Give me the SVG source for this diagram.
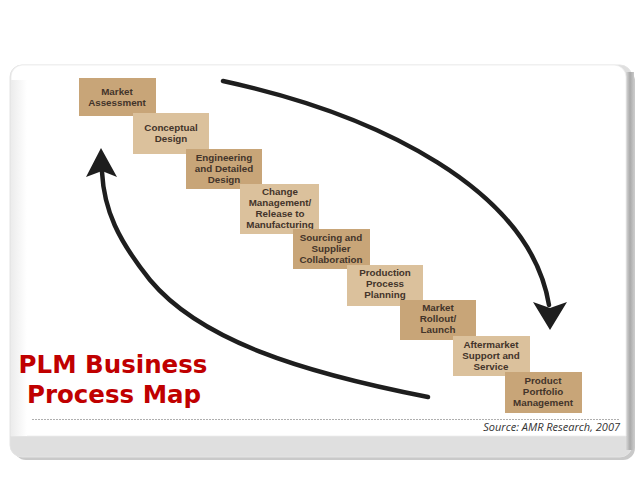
<svg xmlns="http://www.w3.org/2000/svg" width="638" height="478" viewBox="0 0 638 478">
<defs>
<style>
.dk{fill:#c8a578}
.lt{fill:#dbc19c}
.bt{font-family:"Liberation Sans",Arial,sans-serif;font-size:9.8px;fill:#43342a;text-anchor:middle;font-weight:bold}
.title{font-family:"DejaVu Sans","Liberation Sans",sans-serif;font-weight:bold;font-size:24.5px;fill:#c00000}
.arrow{fill:none;stroke:#1e1e1e;stroke-width:4.5;stroke-linecap:round}
.head{fill:#1e1e1e}
</style>
<linearGradient id="lg" x1="0" x2="1" y1="0" y2="0">
<stop offset="0" stop-color="#ececec"/>
<stop offset="1" stop-color="#ffffff"/>
</linearGradient>
<linearGradient id="rg" x1="0" x2="1" y1="0" y2="0">
<stop offset="0" stop-color="#d8d8d8"/>
<stop offset="0.5" stop-color="#a9a9a9"/>
<stop offset="1" stop-color="#c8c8c8"/>
</linearGradient>
</defs>
<rect width="638" height="478" fill="#ffffff"/>
<g id="frame">
<rect x="14" y="69" width="621" height="391" rx="12" fill="#c9c9c9"/>
<rect x="10" y="65" width="622" height="392" rx="12" fill="#dfdfdf" stroke="#e4e4e4" stroke-width="1"/>
<rect x="626" y="72" width="8" height="378" fill="url(#rg)"/>
<path d="M22,65 H614 A12,12 0 0 1 626,77 V436 H27 V436 H11 V77 A12,12 0 0 1 22,65 Z" fill="#ffffff" stroke="#ececec" stroke-width="0.8"/>
<rect x="11" y="80" width="16" height="356" fill="url(#lg)"/>
<line x1="32" y1="419.5" x2="620" y2="419.5" stroke="#9a9a9a" stroke-width="0.8" stroke-dasharray="2,1"/>
<text x="620" y="431" text-anchor="end" font-family="Open Sans, Noto Sans, Liberation Sans, sans-serif" font-style="italic" font-size="11" fill="#333333">Source: AMR Research, 2007</text>
</g>
<g id="title">
<text class="title" x="113" y="373" text-anchor="middle">PLM Business</text>
<text class="title" x="114" y="403" text-anchor="middle">Process Map</text>
</g>
<g id="connectors">
<path class="arrow" d="M223,81 C380,115 530,190 549,305"/>
<polygon class="head" points="550,330 567,302 550,308 533,302"/>
<path class="arrow" d="M428,397 C300,372 200,340 150,280 C118,240 104,210 102,172"/>
<polygon class="head" points="101,148 117,177 102,171 86,177"/>
</g>
<g id="n1"><rect class="dk" x="79" y="78" width="77" height="38"/><text class="bt" x="117" y="94.5">Market</text><text class="bt" x="117" y="105.5">Assessment</text></g>
<g id="n2"><rect class="lt" x="133" y="113" width="76" height="41"/><text class="bt" x="171" y="130.5">Conceptual</text><text class="bt" x="171" y="141.5">Design</text></g>
<g id="n3"><rect class="dk" x="186" y="149" width="76" height="40"/><text class="bt" x="224" y="160.5">Engineering</text><text class="bt" x="224" y="171.5">and Detailed</text><text class="bt" x="224" y="182.5">Design</text></g>
<g id="n4"><rect class="lt" x="240" y="184" width="79" height="50"/><text class="bt" x="280" y="194.5">Change</text><text class="bt" x="280" y="205.5">Management/</text><text class="bt" x="280" y="216.5">Release to</text><text class="bt" x="280" y="227.5">Manufacturing</text></g>
<g id="n5"><rect class="dk" x="293" y="229" width="77" height="40"/><text class="bt" x="331" y="240.5">Sourcing and</text><text class="bt" x="331" y="251.5">Supplier</text><text class="bt" x="331" y="262.5">Collaboration</text></g>
<g id="n6"><rect class="lt" x="347" y="265" width="76" height="41"/><text class="bt" x="385" y="275.5">Production</text><text class="bt" x="385" y="286.5">Process</text><text class="bt" x="385" y="297.5">Planning</text></g>
<g id="n7"><rect class="dk" x="400" y="300" width="76" height="40"/><text class="bt" x="438" y="310.5">Market</text><text class="bt" x="438" y="321.5">Rollout/</text><text class="bt" x="438" y="332.5">Launch</text></g>
<g id="n8"><rect class="lt" x="453" y="336" width="77" height="40"/><text class="bt" x="491" y="347.5">Aftermarket</text><text class="bt" x="491" y="358.5">Support and</text><text class="bt" x="491" y="369.5">Service</text></g>
<g id="n9"><rect class="dk" x="505" y="372" width="77" height="41"/><text class="bt" x="543" y="383.5">Product</text><text class="bt" x="543" y="394.5">Portfolio</text><text class="bt" x="543" y="405.5">Management</text></g>
</svg>
